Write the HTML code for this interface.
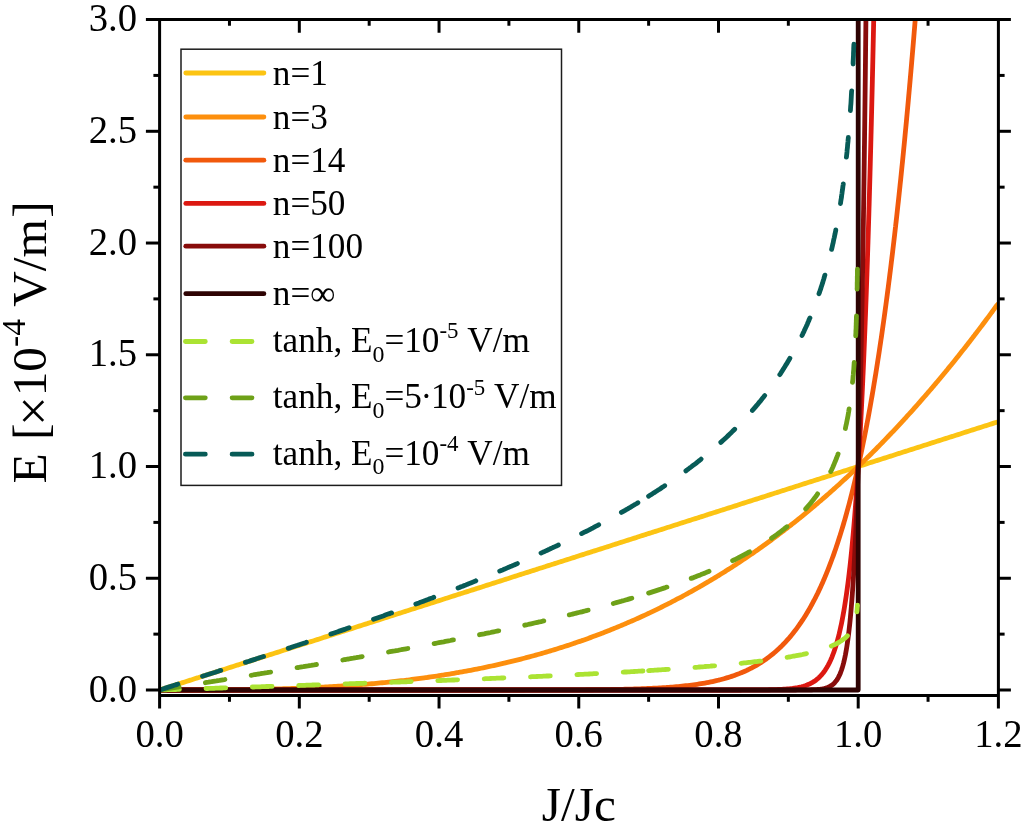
<!DOCTYPE html>
<html><head><meta charset="utf-8"><title>E-J power law and tanh</title>
<style>html,body{margin:0;padding:0;background:#fff}body{width:1025px;height:823px;overflow:hidden}</style></head>
<body>
<svg width="1025" height="823" viewBox="0 0 1025 823" style="display:block">
<rect width="1025" height="823" fill="#fff"/>
<defs><clipPath id="cp"><rect x="159.60" y="19.55" width="838.80" height="676.04"/></clipPath></defs>
<g stroke="#000" stroke-width="3.0" fill="none"><path d="M229.46,19.55 v6.20"/><path d="M299.32,19.55 v13.20"/><path d="M369.18,19.55 v6.20"/><path d="M439.04,19.55 v13.20"/><path d="M508.90,19.55 v6.20"/><path d="M578.76,19.55 v13.20"/><path d="M648.62,19.55 v6.20"/><path d="M718.48,19.55 v13.20"/><path d="M788.34,19.55 v6.20"/><path d="M858.20,19.55 v13.20"/><path d="M928.06,19.55 v6.20"/></g>
<g clip-path="url(#cp)" fill="none" stroke-width="4.8" stroke-linecap="round" stroke-linejoin="round">
<path d="M159.60,690.00 L161.70,689.33 L163.80,688.66 L165.90,687.98 L167.31,687.53 L168.00,687.31 L170.11,686.64 L172.21,685.97 L174.31,685.30 L175.02,685.07 L176.41,684.62 L178.51,683.95 L180.61,683.28 L182.71,682.61 L182.73,682.60 L184.81,681.93 L186.91,681.26 L189.01,680.59 L190.44,680.13 L191.12,679.92 L193.22,679.25 L195.32,678.57 L197.42,677.90 L198.15,677.67 L199.52,677.23 L201.62,676.56 L203.72,675.89 L205.82,675.21 L205.86,675.20 L207.92,674.54 L210.03,673.87 L212.13,673.20 L213.57,672.73 L214.23,672.52 L216.33,671.85 L218.43,671.18 L220.53,670.51 L221.28,670.27 L222.63,669.84 L224.73,669.16 L226.83,668.49 L228.93,667.82 L228.99,667.80 L231.04,667.15 L233.14,666.48 L235.24,665.80 L236.70,665.33 L237.34,665.13 L239.44,664.46 L241.54,663.79 L243.64,663.11 L244.41,662.87 L245.74,662.44 L247.84,661.77 L249.95,661.10 L252.05,660.43 L252.12,660.40 L254.15,659.75 L256.25,659.08 L258.35,658.41 L259.83,657.93 L260.45,657.74 L262.55,657.07 L264.65,656.39 L266.75,655.72 L267.54,655.47 L268.85,655.05 L270.96,654.38 L273.06,653.70 L275.16,653.03 L275.25,653.00 L277.26,652.36 L279.36,651.69 L281.46,651.02 L282.96,650.54 L283.56,650.34 L285.66,649.67 L287.76,649.00 L289.87,648.33 L290.68,648.07 L291.97,647.66 L294.07,646.98 L296.17,646.31 L298.27,645.64 L298.39,645.60 L300.37,644.97 L302.47,644.30 L304.57,643.62 L306.10,643.14 L306.67,642.95 L308.77,642.28 L310.88,641.61 L312.98,640.93 L313.81,640.67 L315.08,640.26 L317.18,639.59 L319.28,638.92 L321.38,638.25 L321.52,638.20 L323.48,637.57 L325.58,636.90 L327.68,636.23 L329.23,635.74 L329.79,635.56 L331.89,634.89 L333.99,634.21 L336.09,633.54 L336.94,633.27 L338.19,632.87 L340.29,632.20 L342.39,631.52 L344.49,630.85 L344.65,630.80 L346.59,630.18 L348.69,629.51 L350.80,628.84 L352.36,628.34 L352.90,628.16 L355.00,627.49 L357.10,626.82 L359.20,626.15 L360.07,625.87 L361.30,625.48 L363.40,624.80 L365.50,624.13 L367.60,623.46 L367.78,623.40 L369.71,622.79 L371.81,622.11 L373.91,621.44 L375.49,620.94 L376.01,620.77 L378.11,620.10 L380.21,619.43 L382.31,618.75 L383.20,618.47 L384.41,618.08 L386.51,617.41 L388.61,616.74 L390.72,616.07 L390.91,616.00 L392.82,615.39 L394.92,614.72 L397.02,614.05 L398.62,613.54 L399.12,613.38 L401.22,612.71 L403.32,612.03 L405.42,611.36 L406.33,611.07 L407.52,610.69 L409.63,610.02 L411.73,609.34 L413.83,608.67 L414.04,608.60 L415.93,608.00 L418.03,607.33 L420.13,606.66 L421.75,606.14 L422.23,605.98 L424.33,605.31 L426.43,604.64 L428.53,603.97 L429.46,603.67 L430.64,603.30 L432.74,602.62 L434.84,601.95 L436.94,601.28 L437.17,601.20 L439.04,600.61 L441.14,599.93 L443.24,599.26 L444.88,598.74 L445.34,598.59 L447.44,597.92 L449.55,597.25 L451.65,596.57 L452.59,596.27 L453.75,595.90 L455.85,595.23 L457.95,594.56 L460.05,593.89 L460.30,593.80 L462.15,593.21 L464.25,592.54 L466.35,591.87 L468.01,591.34 L468.45,591.20 L470.56,590.52 L472.66,589.85 L474.76,589.18 L475.72,588.87 L476.86,588.51 L478.96,587.84 L481.06,587.16 L483.16,586.49 L483.43,586.41 L485.26,585.82 L487.36,585.15 L489.47,584.48 L491.14,583.94 L491.57,583.80 L493.67,583.13 L495.77,582.46 L497.87,581.79 L498.85,581.47 L499.97,581.11 L502.07,580.44 L504.17,579.77 L506.27,579.10 L506.56,579.01 L508.37,578.43 L510.48,577.75 L512.58,577.08 L514.27,576.54 L514.68,576.41 L516.78,575.74 L518.88,575.07 L520.98,574.39 L521.98,574.07 L523.08,573.72 L525.18,573.05 L527.28,572.38 L529.39,571.71 L529.69,571.61 L531.49,571.03 L533.59,570.36 L535.69,569.69 L537.40,569.14 L537.79,569.02 L539.89,568.34 L541.99,567.67 L544.09,567.00 L545.12,566.67 L546.19,566.33 L548.29,565.66 L550.40,564.98 L552.50,564.31 L552.83,564.21 L554.60,563.64 L556.70,562.97 L558.80,562.30 L560.54,561.74 L560.90,561.62 L563.00,560.95 L565.10,560.28 L567.20,559.61 L568.25,559.27 L569.31,558.93 L571.41,558.26 L573.51,557.59 L575.61,556.92 L575.96,556.81 L577.71,556.25 L579.81,555.57 L581.91,554.90 L583.67,554.34 L584.01,554.23 L586.11,553.56 L588.21,552.89 L590.32,552.21 L591.38,551.87 L592.42,551.54 L594.52,550.87 L596.62,550.20 L598.72,549.52 L599.09,549.41 L600.82,548.85 L602.92,548.18 L605.02,547.51 L606.80,546.94 L607.12,546.84 L609.23,546.16 L611.33,545.49 L613.43,544.82 L614.51,544.47 L615.53,544.15 L617.63,543.48 L619.73,542.80 L621.83,542.13 L622.22,542.01 L623.93,541.46 L626.03,540.79 L628.13,540.11 L629.93,539.54 L630.24,539.44 L632.34,538.77 L634.44,538.10 L636.54,537.43 L637.64,537.07 L638.64,536.75 L640.74,536.08 L642.84,535.41 L644.94,534.74 L645.35,534.61 L647.04,534.07 L649.15,533.39 L651.25,532.72 L653.06,532.14 L653.35,532.05 L655.45,531.38 L657.55,530.71 L659.65,530.03 L660.77,529.67 L661.75,529.36 L663.85,528.69 L665.95,528.02 L668.05,527.34 L668.48,527.21 L670.16,526.67 L672.26,526.00 L674.36,525.33 L676.19,524.74 L676.46,524.66 L678.56,523.98 L680.66,523.31 L682.76,522.64 L683.90,522.28 L684.86,521.97 L686.96,521.30 L689.07,520.62 L691.17,519.95 L691.61,519.81 L693.27,519.28 L695.37,518.61 L697.47,517.93 L699.32,517.34 L699.57,517.26 L701.67,516.59 L703.77,515.92 L705.87,515.25 L707.03,514.88 L707.97,514.57 L710.08,513.90 L712.18,513.23 L714.28,512.56 L714.74,512.41 L716.38,511.89 L718.48,511.21 L720.58,510.54 L722.45,509.94 L722.68,509.87 L724.78,509.20 L726.88,508.52 L728.99,507.85 L730.16,507.48 L731.09,507.18 L733.19,506.51 L735.29,505.84 L737.39,505.16 L737.87,505.01 L739.49,504.49 L741.59,503.82 L743.69,503.15 L745.58,502.54 L745.79,502.48 L747.89,501.80 L750.00,501.13 L752.10,500.46 L753.29,500.08 L754.20,499.79 L756.30,499.11 L758.40,498.44 L760.50,497.77 L761.00,497.61 L762.60,497.10 L764.70,496.43 L766.80,495.75 L768.71,495.14 L768.91,495.08 L771.01,494.41 L773.11,493.74 L775.21,493.07 L776.42,492.68 L777.31,492.39 L779.41,491.72 L781.51,491.05 L783.61,490.38 L784.13,490.21 L785.71,489.71 L787.81,489.03 L789.92,488.36 L791.84,487.74 L792.02,487.69 L794.12,487.02 L796.22,486.34 L798.32,485.67 L799.55,485.28 L800.42,485.00 L802.52,484.33 L804.62,483.66 L806.72,482.98 L807.27,482.81 L808.83,482.31 L810.93,481.64 L813.03,480.97 L814.98,480.34 L815.13,480.30 L817.23,479.62 L819.33,478.95 L821.43,478.28 L822.69,477.88 L823.53,477.61 L825.63,476.93 L827.73,476.26 L829.84,475.59 L830.40,475.41 L831.94,474.92 L834.04,474.25 L836.14,473.57 L838.11,472.94 L838.24,472.90 L840.34,472.23 L842.44,471.56 L844.54,470.89 L845.82,470.48 L846.64,470.21 L848.75,469.54 L850.85,468.87 L852.95,468.20 L853.53,468.01 L855.05,467.52 L857.15,466.85 L859.25,466.18 L861.24,465.54 L861.35,465.51 L863.45,464.84 L865.55,464.16 L867.65,463.49 L868.95,463.08 L869.76,462.82 L871.86,462.15 L873.96,461.48 L876.06,460.80 L876.66,460.61 L878.16,460.13 L880.26,459.46 L882.36,458.79 L884.37,458.15 L884.46,458.12 L886.56,457.44 L888.67,456.77 L890.77,456.10 L892.08,455.68 L892.87,455.43 L894.97,454.75 L897.07,454.08 L899.17,453.41 L899.79,453.21 L901.27,452.74 L903.37,452.07 L905.47,451.39 L907.50,450.75 L907.57,450.72 L909.68,450.05 L911.78,449.38 L913.88,448.71 L915.21,448.28 L915.98,448.03 L918.08,447.36 L920.18,446.69 L922.28,446.02 L922.92,445.81 L924.38,445.34 L926.48,444.67 L928.59,444.00 L930.63,443.35 L930.69,443.33 L932.79,442.66 L934.89,441.98 L936.99,441.31 L938.34,440.88 L939.09,440.64 L941.19,439.97 L943.29,439.30 L945.39,438.62 L946.05,438.41 L947.49,437.95 L949.60,437.28 L951.70,436.61 L953.76,435.95 L953.80,435.93 L955.90,435.26 L958.00,434.59 L960.10,433.92 L961.47,433.48 L962.20,433.25 L964.30,432.57 L966.40,431.90 L968.51,431.23 L969.18,431.01 L970.61,430.56 L972.71,429.89 L974.81,429.21 L976.89,428.55 L976.91,428.54 L979.01,427.87 L981.11,427.20 L983.21,426.52 L984.60,426.08 L985.31,425.85 L987.41,425.18 L989.52,424.51 L991.62,423.84 L992.31,423.61 L993.72,423.16 L995.82,422.49 L998.40,421.82" stroke="#FCC413"/>
<path d="M159.60,690.00 L161.70,690.00 L163.80,690.00 L165.90,690.00 L168.00,690.00 L170.11,690.00 L172.21,690.00 L174.31,690.00 L176.41,690.00 L178.51,690.00 L180.61,689.99 L182.71,689.99 L184.81,689.99 L186.91,689.99 L189.01,689.98 L191.12,689.98 L193.22,689.98 L195.32,689.97 L197.42,689.96 L199.52,689.96 L201.62,689.95 L203.72,689.94 L205.82,689.94 L207.92,689.93 L210.03,689.92 L212.13,689.91 L214.23,689.89 L216.33,689.88 L218.43,689.87 L220.53,689.85 L222.63,689.84 L224.73,689.82 L226.83,689.80 L228.93,689.78 L231.04,689.76 L233.14,689.74 L235.24,689.72 L237.34,689.69 L239.44,689.67 L241.54,689.64 L243.64,689.61 L245.74,689.58 L247.84,689.55 L249.95,689.52 L252.05,689.48 L254.15,689.45 L256.25,689.41 L258.35,689.37 L260.45,689.33 L262.55,689.28 L264.65,689.24 L266.75,689.19 L268.85,689.15 L270.96,689.09 L273.06,689.04 L275.16,688.99 L277.26,688.93 L279.36,688.87 L281.46,688.81 L283.56,688.75 L285.66,688.69 L287.76,688.62 L289.87,688.55 L291.97,688.48 L294.07,688.41 L296.17,688.33 L298.27,688.25 L300.37,688.17 L302.47,688.09 L304.57,688.00 L306.67,687.91 L308.77,687.82 L310.88,687.73 L312.98,687.63 L315.08,687.54 L315.14,687.53 L317.18,687.44 L319.28,687.33 L321.38,687.22 L323.48,687.11 L325.58,687.00 L327.68,686.89 L329.79,686.77 L331.89,686.65 L333.99,686.52 L336.09,686.40 L338.19,686.27 L340.29,686.13 L342.39,686.00 L344.49,685.86 L346.59,685.71 L348.69,685.57 L350.80,685.42 L352.90,685.27 L355.00,685.11 L355.57,685.07 L357.10,684.95 L359.20,684.79 L361.30,684.62 L363.40,684.45 L365.50,684.28 L367.60,684.10 L369.71,683.92 L371.81,683.74 L373.91,683.55 L376.01,683.36 L378.11,683.16 L380.21,682.96 L382.31,682.76 L383.93,682.60 L384.41,682.55 L386.51,682.34 L388.61,682.13 L390.72,681.91 L392.82,681.69 L394.92,681.46 L397.02,681.23 L399.12,680.99 L401.22,680.75 L403.32,680.51 L405.42,680.26 L406.50,680.13 L407.52,680.01 L409.63,679.76 L411.73,679.49 L413.83,679.23 L415.93,678.96 L418.03,678.69 L420.13,678.41 L422.23,678.13 L424.33,677.84 L425.57,677.67 L426.43,677.55 L428.53,677.25 L430.64,676.95 L432.74,676.64 L434.84,676.33 L436.94,676.02 L439.04,675.70 L441.14,675.37 L442.24,675.20 L443.24,675.04 L445.34,674.71 L447.44,674.37 L449.55,674.02 L451.65,673.67 L453.75,673.32 L455.85,672.96 L457.14,672.73 L457.95,672.59 L460.05,672.22 L462.15,671.85 L464.25,671.47 L466.35,671.08 L468.45,670.69 L470.56,670.29 L470.68,670.27 L472.66,669.89 L474.76,669.48 L476.86,669.07 L478.96,668.65 L481.06,668.23 L483.14,667.80 L483.16,667.80 L485.26,667.36 L487.36,666.92 L489.47,666.47 L491.57,666.02 L493.67,665.56 L494.70,665.33 L495.77,665.10 L497.87,664.63 L499.97,664.15 L502.07,663.67 L504.17,663.18 L505.52,662.87 L506.27,662.69 L508.37,662.19 L510.48,661.68 L512.58,661.17 L514.68,660.66 L515.70,660.40 L516.78,660.13 L518.88,659.60 L520.98,659.06 L523.08,658.52 L525.18,657.97 L525.33,657.93 L527.28,657.42 L529.39,656.86 L531.49,656.29 L533.59,655.71 L534.47,655.47 L535.69,655.13 L537.79,654.54 L539.89,653.95 L541.99,653.35 L543.20,653.00 L544.09,652.74 L546.19,652.13 L548.29,651.51 L550.40,650.88 L551.54,650.54 L552.50,650.24 L554.60,649.60 L556.70,648.96 L558.80,648.30 L559.54,648.07 L560.90,647.64 L563.00,646.97 L565.10,646.29 L567.20,645.61 L567.23,645.60 L569.31,644.92 L571.41,644.22 L573.51,643.52 L574.64,643.14 L575.61,642.81 L577.71,642.09 L579.81,641.36 L581.80,640.67 L581.91,640.63 L584.01,639.89 L586.11,639.14 L588.21,638.39 L588.72,638.20 L590.32,637.62 L592.42,636.85 L594.52,636.08 L595.43,635.74 L596.62,635.29 L598.72,634.50 L600.82,633.70 L601.94,633.27 L602.92,632.89 L605.02,632.07 L607.12,631.25 L608.26,630.80 L609.23,630.42 L611.33,629.58 L613.43,628.73 L614.40,628.34 L615.53,627.88 L617.63,627.01 L619.73,626.14 L620.39,625.87 L621.83,625.27 L623.93,624.38 L626.03,623.48 L626.22,623.40 L628.13,622.58 L630.24,621.67 L631.91,620.94 L632.34,620.75 L634.44,619.82 L636.54,618.89 L637.47,618.47 L638.64,617.94 L640.74,616.99 L642.84,616.03 L642.90,616.00 L644.94,615.06 L647.04,614.08 L648.21,613.54 L649.15,613.10 L651.25,612.10 L653.35,611.10 L653.41,611.07 L655.45,610.09 L657.55,609.07 L658.50,608.60 L659.65,608.04 L661.75,607.00 L663.49,606.14 L663.85,605.96 L665.95,604.90 L668.05,603.84 L668.38,603.67 L670.16,602.77 L672.26,601.68 L673.18,601.20 L674.36,600.59 L676.46,599.49 L677.89,598.74 L678.56,598.39 L680.66,597.27 L682.52,596.27 L682.76,596.14 L684.86,595.01 L686.96,593.86 L687.07,593.80 L689.07,592.71 L691.17,591.55 L691.54,591.34 L693.27,590.37 L695.37,589.19 L695.94,588.87 L697.47,588.00 L699.57,586.80 L700.26,586.41 L701.67,585.59 L703.77,584.37 L704.52,583.94 L705.87,583.15 L707.97,581.91 L708.71,581.47 L710.08,580.66 L712.18,579.40 L712.84,579.01 L714.28,578.14 L716.38,576.86 L716.91,576.54 L718.48,575.58 L720.58,574.28 L720.92,574.07 L722.68,572.98 L724.78,571.66 L724.87,571.61 L726.88,570.34 L728.77,569.14 L728.99,569.00 L731.09,567.66 L732.62,566.67 L733.19,566.30 L735.29,564.94 L736.41,564.21 L737.39,563.56 L739.49,562.18 L740.16,561.74 L741.59,560.79 L743.69,559.38 L743.85,559.27 L745.79,557.97 L747.51,556.81 L747.89,556.54 L750.00,555.11 L751.11,554.34 L752.10,553.66 L754.20,552.21 L754.68,551.87 L756.30,550.74 L758.20,549.41 L758.40,549.26 L760.50,547.78 L761.68,546.94 L762.60,546.28 L764.70,544.77 L765.12,544.47 L766.80,543.25 L768.52,542.01 L768.91,541.73 L771.01,540.19 L771.88,539.54 L773.11,538.64 L775.21,537.08 L775.21,537.07 L777.31,535.51 L778.50,534.61 L779.41,533.92 L781.51,532.33 L781.76,532.14 L783.61,530.73 L784.98,529.67 L785.71,529.11 L787.81,527.49 L788.18,527.21 L789.92,525.85 L791.33,524.74 L792.02,524.21 L794.12,522.55 L794.46,522.28 L796.22,520.88 L797.56,519.81 L798.32,519.20 L800.42,517.51 L800.63,517.34 L802.52,515.81 L803.66,514.88 L804.62,514.09 L806.67,512.41 L806.72,512.37 L808.83,510.63 L809.66,509.94 L810.93,508.88 L812.61,507.48 L813.03,507.13 L815.13,505.36 L815.54,505.01 L817.23,503.58 L818.44,502.54 L819.33,501.78 L821.32,500.08 L821.43,499.98 L823.53,498.16 L824.17,497.61 L825.63,496.34 L827.00,495.14 L827.73,494.50 L829.80,492.68 L829.84,492.65 L831.94,490.79 L832.58,490.21 L834.04,488.91 L835.34,487.74 L836.14,487.03 L838.08,485.28 L838.24,485.13 L840.34,483.22 L840.79,482.81 L842.44,481.30 L843.48,480.34 L844.54,479.37 L846.16,477.88 L846.64,477.42 L848.75,475.47 L848.81,475.41 L850.85,473.50 L851.44,472.94 L852.95,471.52 L854.05,470.48 L855.05,469.53 L856.64,468.01 L857.15,467.52 L859.21,465.54 L859.25,465.51 L861.35,463.48 L861.76,463.08 L863.45,461.44 L864.30,460.61 L865.55,459.38 L866.82,458.15 L867.65,457.32 L869.32,455.68 L869.76,455.24 L871.80,453.21 L871.86,453.15 L873.96,451.05 L874.26,450.75 L876.06,448.94 L876.71,448.28 L878.16,446.81 L879.14,445.81 L880.26,444.67 L881.55,443.35 L882.36,442.52 L883.95,440.88 L884.46,440.35 L886.34,438.41 L886.56,438.18 L888.67,435.99 L888.70,435.95 L890.77,433.78 L891.05,433.48 L892.87,431.57 L893.39,431.01 L894.97,429.34 L895.71,428.55 L897.07,427.10 L898.02,426.08 L899.17,424.85 L900.31,423.61 L901.27,422.58 L902.59,421.15 L903.37,420.30 L904.86,418.68 L905.47,418.01 L907.11,416.21 L907.57,415.70 L909.35,413.75 L909.68,413.39 L911.57,411.28 L911.78,411.05 L913.78,408.81 L913.88,408.71 L915.98,406.35 L915.98,406.35 L918.08,403.98 L918.17,403.88 L920.18,401.60 L920.34,401.42 L922.28,399.20 L922.50,398.95 L924.38,396.79 L924.65,396.48 L926.48,394.37 L926.79,394.02 L928.59,391.93 L928.92,391.55 L930.69,389.48 L931.03,389.08 L932.79,387.02 L933.13,386.62 L934.89,384.54 L935.22,384.15 L936.99,382.05 L937.30,381.68 L939.09,379.55 L939.37,379.22 L941.19,377.03 L941.43,376.75 L943.29,374.50 L943.47,374.28 L945.39,371.96 L945.51,371.82 L947.49,369.40 L947.54,369.35 L949.55,366.88 L949.60,366.83 L951.56,364.42 L951.70,364.24 L953.55,361.95 L953.80,361.64 L955.54,359.48 L955.90,359.03 L957.51,357.02 L958.00,356.40 L959.48,354.55 L960.10,353.76 L961.43,352.08 L962.20,351.11 L963.38,349.62 L964.30,348.44 L965.31,347.15 L966.40,345.76 L967.24,344.68 L968.51,343.06 L969.16,342.22 L970.61,340.35 L971.07,339.75 L972.71,337.63 L972.97,337.29 L974.81,334.89 L974.86,334.82 L976.74,332.35 L976.91,332.14 L978.62,329.89 L979.01,329.37 L980.48,327.42 L981.11,326.59 L982.34,324.95 L983.21,323.79 L984.19,322.49 L985.31,320.98 L986.03,320.02 L987.41,318.16 L987.86,317.55 L989.52,315.32 L989.69,315.09 L991.50,312.62 L991.62,312.47 L993.31,310.15 L993.72,309.60 L995.11,307.69 L995.82,306.72 L996.91,305.22 L998.40,303.82" stroke="#FD8F0D"/>
<path d="M159.60,690.00 L161.51,690.00 L163.41,690.00 L165.32,690.00 L167.23,690.00 L169.13,690.00 L171.04,690.00 L172.95,690.00 L174.85,690.00 L176.76,690.00 L178.67,690.00 L180.57,690.00 L182.48,690.00 L184.39,690.00 L186.29,690.00 L188.20,690.00 L190.11,690.00 L192.01,690.00 L193.92,690.00 L195.83,690.00 L197.73,690.00 L199.64,690.00 L201.55,690.00 L203.46,690.00 L205.36,690.00 L207.27,690.00 L209.18,690.00 L211.08,690.00 L212.99,690.00 L214.90,690.00 L216.80,690.00 L218.71,690.00 L220.62,690.00 L222.52,690.00 L224.43,690.00 L226.34,690.00 L228.24,690.00 L230.15,690.00 L232.06,690.00 L233.96,690.00 L235.87,690.00 L237.78,690.00 L239.68,690.00 L241.59,690.00 L243.50,690.00 L245.40,690.00 L247.31,690.00 L249.22,690.00 L251.12,690.00 L253.03,690.00 L254.94,690.00 L256.84,690.00 L258.75,690.00 L260.66,690.00 L262.56,690.00 L264.47,690.00 L266.38,690.00 L268.28,690.00 L270.19,690.00 L272.10,690.00 L274.00,690.00 L275.91,690.00 L277.82,690.00 L279.72,690.00 L281.63,690.00 L283.54,690.00 L285.45,690.00 L287.35,690.00 L289.26,690.00 L291.17,690.00 L293.07,690.00 L294.98,690.00 L296.89,690.00 L298.79,690.00 L300.70,690.00 L302.61,690.00 L304.51,690.00 L306.42,690.00 L308.33,690.00 L310.23,690.00 L312.14,690.00 L314.05,690.00 L315.95,690.00 L317.86,690.00 L319.77,690.00 L321.67,690.00 L323.58,690.00 L325.49,690.00 L327.39,690.00 L329.30,690.00 L331.21,690.00 L333.11,690.00 L335.02,690.00 L336.93,690.00 L338.83,690.00 L340.74,690.00 L342.65,690.00 L344.55,690.00 L346.46,690.00 L348.37,690.00 L350.27,690.00 L352.18,690.00 L354.09,690.00 L355.99,690.00 L357.90,690.00 L359.81,690.00 L361.71,690.00 L363.62,690.00 L365.53,690.00 L367.44,690.00 L369.34,690.00 L371.25,690.00 L373.16,690.00 L375.06,690.00 L376.97,690.00 L378.88,690.00 L380.78,690.00 L382.69,690.00 L384.60,690.00 L386.50,690.00 L388.41,690.00 L390.32,690.00 L392.22,690.00 L394.13,690.00 L396.04,690.00 L397.94,690.00 L399.85,690.00 L401.76,690.00 L403.66,690.00 L405.57,690.00 L407.48,690.00 L409.38,690.00 L411.29,690.00 L413.20,690.00 L415.10,690.00 L417.01,690.00 L418.92,690.00 L420.82,690.00 L422.73,690.00 L424.64,690.00 L426.54,690.00 L428.45,690.00 L430.36,690.00 L432.26,690.00 L434.17,690.00 L436.08,690.00 L437.98,690.00 L439.89,690.00 L441.80,690.00 L443.70,690.00 L445.61,690.00 L447.52,690.00 L449.43,690.00 L451.33,690.00 L453.24,690.00 L455.15,690.00 L457.05,690.00 L458.96,690.00 L460.87,690.00 L462.77,690.00 L464.68,690.00 L466.59,690.00 L468.49,690.00 L470.40,690.00 L472.31,690.00 L474.21,690.00 L476.12,690.00 L478.03,690.00 L479.93,690.00 L481.84,690.00 L483.75,690.00 L485.65,689.99 L487.56,689.99 L489.47,689.99 L491.37,689.99 L493.28,689.99 L495.19,689.99 L497.09,689.99 L499.00,689.99 L500.91,689.99 L502.81,689.99 L504.72,689.99 L506.63,689.99 L508.53,689.99 L510.44,689.99 L512.35,689.98 L514.25,689.98 L516.16,689.98 L518.07,689.98 L519.97,689.98 L521.88,689.98 L523.79,689.98 L525.69,689.97 L527.60,689.97 L529.51,689.97 L531.42,689.97 L533.32,689.96 L535.23,689.96 L537.14,689.96 L539.04,689.96 L540.95,689.95 L542.86,689.95 L544.76,689.95 L546.67,689.94 L548.58,689.94 L550.48,689.93 L552.39,689.93 L554.30,689.92 L556.20,689.92 L558.11,689.91 L560.02,689.91 L561.92,689.90 L563.83,689.89 L565.74,689.89 L567.64,689.88 L569.55,689.87 L571.46,689.86 L573.36,689.85 L575.27,689.84 L577.18,689.83 L579.08,689.82 L580.99,689.81 L582.90,689.80 L584.80,689.79 L586.71,689.77 L588.62,689.76 L590.52,689.74 L592.43,689.73 L594.34,689.71 L596.24,689.69 L598.15,689.67 L600.06,689.65 L601.96,689.63 L603.87,689.60 L605.78,689.58 L607.68,689.55 L609.59,689.53 L611.50,689.50 L613.41,689.47 L615.31,689.44 L617.22,689.40 L619.13,689.37 L621.03,689.33 L622.94,689.29 L624.85,689.25 L626.75,689.20 L628.66,689.15 L630.57,689.10 L632.47,689.05 L634.38,689.00 L636.29,688.94 L638.19,688.88 L640.10,688.81 L642.01,688.75 L643.91,688.68 L645.82,688.60 L647.73,688.52 L649.63,688.44 L651.54,688.35 L653.45,688.26 L655.35,688.16 L657.26,688.06 L659.17,687.96 L661.07,687.84 L662.98,687.73 L664.89,687.60 L665.93,687.53 L666.79,687.47 L668.70,687.34 L670.61,687.19 L672.51,687.04 L674.42,686.89 L676.33,686.72 L678.23,686.55 L680.14,686.37 L682.05,686.17 L683.95,685.97 L685.86,685.76 L687.77,685.54 L689.67,685.31 L691.58,685.07 L691.63,685.07 L693.49,684.82 L695.40,684.55 L697.30,684.28 L699.21,683.99 L701.12,683.68 L703.02,683.36 L704.93,683.03 L706.84,682.68 L707.26,682.60 L708.74,682.32 L710.65,681.93 L712.56,681.53 L714.46,681.12 L716.37,680.68 L718.28,680.22 L718.63,680.13 L720.18,679.74 L722.09,679.24 L724.00,678.72 L725.90,678.18 L727.61,677.67 L727.81,677.61 L729.72,677.01 L731.62,676.39 L733.53,675.74 L735.06,675.20 L735.44,675.06 L737.34,674.36 L739.25,673.62 L741.16,672.85 L741.43,672.73 L743.06,672.04 L744.97,671.20 L746.88,670.33 L747.01,670.27 L748.78,669.41 L750.69,668.46 L751.97,667.80 L752.60,667.47 L754.50,666.43 L756.41,665.35 L756.44,665.33 L758.32,664.23 L760.22,663.05 L760.52,662.87 L762.13,661.83 L764.04,660.56 L764.27,660.40 L765.94,659.23 L767.73,657.93 L767.85,657.85 L769.76,656.41 L770.96,655.47 L771.66,654.91 L773.57,653.35 L773.98,653.00 L775.48,651.72 L776.82,650.54 L777.39,650.03 L779.29,648.26 L779.50,648.07 L781.20,646.43 L782.03,645.60 L783.11,644.52 L784.44,643.14 L785.01,642.54 L786.74,640.67 L786.92,640.47 L788.83,638.32 L788.93,638.20 L790.73,636.08 L791.02,635.74 L792.64,633.76 L793.03,633.27 L794.55,631.34 L794.96,630.80 L796.45,628.82 L796.81,628.34 L798.36,626.21 L798.60,625.87 L800.27,623.49 L800.33,623.40 L801.99,620.94 L802.17,620.66 L803.60,618.47 L804.08,617.73 L805.17,616.00 L805.99,614.68 L806.68,613.54 L807.89,611.50 L808.15,611.07 L809.58,608.60 L809.80,608.21 L810.96,606.14 L811.71,604.79 L812.31,603.67 L813.61,601.23 L813.63,601.20 L814.91,598.74 L815.52,597.54 L816.16,596.27 L817.38,593.81 L817.43,593.70 L818.57,591.34 L819.33,589.72 L819.73,588.87 L820.87,586.41 L821.24,585.59 L821.98,583.94 L823.07,581.47 L823.15,581.30 L824.14,579.01 L825.05,576.84 L825.18,576.54 L826.20,574.07 L826.96,572.21 L827.21,571.61 L828.19,569.14 L828.87,567.41 L829.16,566.67 L830.10,564.21 L830.77,562.43 L831.03,561.74 L831.95,559.27 L832.68,557.27 L832.85,556.81 L833.73,554.34 L834.59,551.90 L834.60,551.87 L835.45,549.41 L836.29,546.94 L836.49,546.34 L837.12,544.47 L837.93,542.01 L838.40,540.57 L838.73,539.54 L839.52,537.07 L840.30,534.61 L840.31,534.58 L841.07,532.14 L841.82,529.67 L842.21,528.38 L842.57,527.21 L843.30,524.74 L844.02,522.28 L844.12,521.94 L844.74,519.81 L845.44,517.34 L846.03,515.27 L846.14,514.88 L846.82,512.41 L847.50,509.94 L847.93,508.35 L848.17,507.48 L848.83,505.01 L849.48,502.54 L849.84,501.18 L850.13,500.08 L850.76,497.61 L851.39,495.14 L851.75,493.74 L852.02,492.68 L852.63,490.21 L853.24,487.74 L853.65,486.03 L853.84,485.28 L854.43,482.81 L855.02,480.34 L855.56,478.05 L855.60,477.88 L856.18,475.41 L856.75,472.94 L857.31,470.48 L857.47,469.77 L857.87,468.01 L858.42,465.54 L858.96,463.08 L859.38,461.20 L859.50,460.61 L860.04,458.15 L860.57,455.68 L861.09,453.21 L861.28,452.31 L861.61,450.75 L862.13,448.28 L862.64,445.81 L863.14,443.35 L863.19,443.11 L863.64,440.88 L864.14,438.41 L864.63,435.95 L865.10,433.57 L865.11,433.48 L865.60,431.01 L866.07,428.55 L866.55,426.08 L867.00,423.70 L867.02,423.61 L867.48,421.15 L867.95,418.68 L868.40,416.21 L868.86,413.75 L868.91,413.47 L869.31,411.28 L869.76,408.81 L870.20,406.35 L870.64,403.88 L870.82,402.88 L871.07,401.42 L871.51,398.95 L871.94,396.48 L872.36,394.02 L872.72,391.91 L872.78,391.55 L873.20,389.08 L873.62,386.62 L874.03,384.15 L874.44,381.68 L874.63,380.56 L874.85,379.22 L875.25,376.75 L875.66,374.28 L876.05,371.82 L876.45,369.35 L876.54,368.81 L876.84,366.88 L877.23,364.42 L877.62,361.95 L878.00,359.48 L878.38,357.02 L878.44,356.64 L878.76,354.55 L879.14,352.08 L879.51,349.62 L879.88,347.15 L880.25,344.68 L880.35,344.04 L880.62,342.22 L880.98,339.75 L881.35,337.29 L881.71,334.82 L882.06,332.35 L882.26,331.01 L882.42,329.89 L882.77,327.42 L883.12,324.95 L883.47,322.49 L883.81,320.02 L884.16,317.55 L884.16,317.51 L884.50,315.09 L884.84,312.62 L885.18,310.15 L885.51,307.69 L885.85,305.22 L886.07,303.55 L886.18,302.75 L886.51,300.29 L886.83,297.82 L887.16,295.35 L887.48,292.89 L887.81,290.42 L887.98,289.11 L888.13,287.95 L888.44,285.49 L888.76,283.02 L889.08,280.55 L889.39,278.09 L889.70,275.62 L889.88,274.16 L890.01,273.15 L890.32,270.69 L890.62,268.22 L890.93,265.76 L891.23,263.29 L891.53,260.82 L891.79,258.70 L891.83,258.36 L892.13,255.89 L892.43,253.42 L892.72,250.96 L893.01,248.49 L893.31,246.02 L893.60,243.56 L893.70,242.71 L893.89,241.09 L894.17,238.62 L894.46,236.16 L894.74,233.69 L895.03,231.22 L895.31,228.76 L895.59,226.29 L895.60,226.17 L895.87,223.82 L896.15,221.36 L896.42,218.89 L896.70,216.42 L896.97,213.96 L897.24,211.49 L897.51,209.06 L897.51,209.02 L897.78,206.56 L898.05,204.09 L898.32,201.63 L898.58,199.16 L898.85,196.69 L899.11,194.23 L899.37,191.76 L899.42,191.37 L899.64,189.29 L899.90,186.83 L900.15,184.36 L900.41,181.89 L900.67,179.43 L900.92,176.96 L901.18,174.49 L901.32,173.07 L901.43,172.03 L901.68,169.56 L901.93,167.09 L902.18,164.63 L902.43,162.16 L902.68,159.69 L902.92,157.23 L903.17,154.76 L903.23,154.15 L903.41,152.29 L903.66,149.83 L903.90,147.36 L904.14,144.90 L904.38,142.43 L904.62,139.96 L904.86,137.50 L905.09,135.03 L905.14,134.59 L905.33,132.56 L905.57,130.10 L905.80,127.63 L906.03,125.16 L906.27,122.70 L906.50,120.23 L906.73,117.76 L906.96,115.30 L907.04,114.37 L907.19,112.83 L907.41,110.36 L907.64,107.90 L907.87,105.43 L908.09,102.96 L908.32,100.50 L908.54,98.03 L908.76,95.56 L908.95,93.47 L908.98,93.10 L909.20,90.63 L909.42,88.16 L909.64,85.70 L909.86,83.23 L910.08,80.77 L910.30,78.30 L910.51,75.83 L910.73,73.37 L910.86,71.86 L910.94,70.90 L911.15,68.43 L911.37,65.97 L911.58,63.50 L911.79,61.03 L912.00,58.57 L912.21,56.10 L912.42,53.63 L912.63,51.17 L912.76,49.53 L912.83,48.70 L913.04,46.23 L913.25,43.77 L913.45,41.30 L913.66,38.83 L913.86,36.37 L914.06,33.90 L914.26,31.43 L914.47,28.97 L914.67,26.50 L914.67,26.45 L914.87,24.03 L915.07,21.57 L915.27,19.10 L915.46,16.64 L915.66,14.17 L915.86,11.70 L916.05,9.24 L916.25,6.77 L916.44,4.30 L916.58,2.61 L916.64,1.84 L916.83,-0.63 L917.02,-3.10 L917.22,-5.56 L917.41,-8.03 L917.60,-10.50 L917.79,-12.96 L917.98,-15.43 L918.17,-17.90 L918.36,-20.36 L918.48,-22.04 L918.54,-22.83 L918.73,-25.30 L918.92,-27.76 L919.10,-30.23 L919.29,-32.70 L919.48,-35.16 L919.66,-37.63 L919.84,-40.10 L920.03,-42.56 L920.21,-45.03 L920.39,-47.49" stroke="#F1590C"/>
<path d="M159.60,690.00 L161.39,690.00 L163.19,690.00 L164.98,690.00 L166.77,690.00 L168.57,690.00 L170.36,690.00 L172.15,690.00 L173.95,690.00 L175.74,690.00 L177.53,690.00 L179.33,690.00 L181.12,690.00 L182.91,690.00 L184.70,690.00 L186.50,690.00 L188.29,690.00 L190.08,690.00 L191.88,690.00 L193.67,690.00 L195.46,690.00 L197.26,690.00 L199.05,690.00 L200.84,690.00 L202.64,690.00 L204.43,690.00 L206.22,690.00 L208.02,690.00 L209.81,690.00 L211.60,690.00 L213.40,690.00 L215.19,690.00 L216.98,690.00 L218.78,690.00 L220.57,690.00 L222.36,690.00 L224.15,690.00 L225.95,690.00 L227.74,690.00 L229.53,690.00 L231.33,690.00 L233.12,690.00 L234.91,690.00 L236.71,690.00 L238.50,690.00 L240.29,690.00 L242.09,690.00 L243.88,690.00 L245.67,690.00 L247.47,690.00 L249.26,690.00 L251.05,690.00 L252.85,690.00 L254.64,690.00 L256.43,690.00 L258.23,690.00 L260.02,690.00 L261.81,690.00 L263.60,690.00 L265.40,690.00 L267.19,690.00 L268.98,690.00 L270.78,690.00 L272.57,690.00 L274.36,690.00 L276.16,690.00 L277.95,690.00 L279.74,690.00 L281.54,690.00 L283.33,690.00 L285.12,690.00 L286.92,690.00 L288.71,690.00 L290.50,690.00 L292.30,690.00 L294.09,690.00 L295.88,690.00 L297.68,690.00 L299.47,690.00 L301.26,690.00 L303.06,690.00 L304.85,690.00 L306.64,690.00 L308.43,690.00 L310.23,690.00 L312.02,690.00 L313.81,690.00 L315.61,690.00 L317.40,690.00 L319.19,690.00 L320.99,690.00 L322.78,690.00 L324.57,690.00 L326.37,690.00 L328.16,690.00 L329.95,690.00 L331.75,690.00 L333.54,690.00 L335.33,690.00 L337.13,690.00 L338.92,690.00 L340.71,690.00 L342.51,690.00 L344.30,690.00 L346.09,690.00 L347.88,690.00 L349.68,690.00 L351.47,690.00 L353.26,690.00 L355.06,690.00 L356.85,690.00 L358.64,690.00 L360.44,690.00 L362.23,690.00 L364.02,690.00 L365.82,690.00 L367.61,690.00 L369.40,690.00 L371.20,690.00 L372.99,690.00 L374.78,690.00 L376.58,690.00 L378.37,690.00 L380.16,690.00 L381.96,690.00 L383.75,690.00 L385.54,690.00 L387.33,690.00 L389.13,690.00 L390.92,690.00 L392.71,690.00 L394.51,690.00 L396.30,690.00 L398.09,690.00 L399.89,690.00 L401.68,690.00 L403.47,690.00 L405.27,690.00 L407.06,690.00 L408.85,690.00 L410.65,690.00 L412.44,690.00 L414.23,690.00 L416.03,690.00 L417.82,690.00 L419.61,690.00 L421.41,690.00 L423.20,690.00 L424.99,690.00 L426.79,690.00 L428.58,690.00 L430.37,690.00 L432.16,690.00 L433.96,690.00 L435.75,690.00 L437.54,690.00 L439.34,690.00 L441.13,690.00 L442.92,690.00 L444.72,690.00 L446.51,690.00 L448.30,690.00 L450.10,690.00 L451.89,690.00 L453.68,690.00 L455.48,690.00 L457.27,690.00 L459.06,690.00 L460.86,690.00 L462.65,690.00 L464.44,690.00 L466.24,690.00 L468.03,690.00 L469.82,690.00 L471.61,690.00 L473.41,690.00 L475.20,690.00 L476.99,690.00 L478.79,690.00 L480.58,690.00 L482.37,690.00 L484.17,690.00 L485.96,690.00 L487.75,690.00 L489.55,690.00 L491.34,690.00 L493.13,690.00 L494.93,690.00 L496.72,690.00 L498.51,690.00 L500.31,690.00 L502.10,690.00 L503.89,690.00 L505.69,690.00 L507.48,690.00 L509.27,690.00 L511.06,690.00 L512.86,690.00 L514.65,690.00 L516.44,690.00 L518.24,690.00 L520.03,690.00 L521.82,690.00 L523.62,690.00 L525.41,690.00 L527.20,690.00 L529.00,690.00 L530.79,690.00 L532.58,690.00 L534.38,690.00 L536.17,690.00 L537.96,690.00 L539.76,690.00 L541.55,690.00 L543.34,690.00 L545.14,690.00 L546.93,690.00 L548.72,690.00 L550.52,690.00 L552.31,690.00 L554.10,690.00 L555.89,690.00 L557.69,690.00 L559.48,690.00 L561.27,690.00 L563.07,690.00 L564.86,690.00 L566.65,690.00 L568.45,690.00 L570.24,690.00 L572.03,690.00 L573.83,690.00 L575.62,690.00 L577.41,690.00 L579.21,690.00 L581.00,690.00 L582.79,690.00 L584.59,690.00 L586.38,690.00 L588.17,690.00 L589.97,690.00 L591.76,690.00 L593.55,690.00 L595.34,690.00 L597.14,690.00 L598.93,690.00 L600.72,690.00 L602.52,690.00 L604.31,690.00 L606.10,690.00 L607.90,690.00 L609.69,690.00 L611.48,690.00 L613.28,690.00 L615.07,690.00 L616.86,690.00 L618.66,690.00 L620.45,690.00 L622.24,690.00 L624.04,690.00 L625.83,690.00 L627.62,690.00 L629.42,690.00 L631.21,690.00 L633.00,690.00 L634.79,690.00 L636.59,690.00 L638.38,690.00 L640.17,690.00 L641.97,690.00 L643.76,690.00 L645.55,690.00 L647.35,690.00 L649.14,690.00 L650.93,690.00 L652.73,690.00 L654.52,690.00 L656.31,690.00 L658.11,690.00 L659.90,690.00 L661.69,690.00 L663.49,690.00 L665.28,690.00 L667.07,690.00 L668.87,690.00 L670.66,690.00 L672.45,690.00 L674.25,690.00 L676.04,690.00 L677.83,690.00 L679.62,690.00 L681.42,690.00 L683.21,690.00 L685.00,690.00 L686.80,690.00 L688.59,690.00 L690.38,690.00 L692.18,690.00 L693.97,690.00 L695.76,690.00 L697.56,690.00 L699.35,690.00 L701.14,690.00 L702.94,690.00 L704.73,690.00 L706.52,690.00 L708.32,690.00 L710.11,690.00 L711.90,690.00 L713.70,690.00 L715.49,690.00 L717.28,690.00 L719.07,690.00 L720.87,690.00 L722.66,690.00 L724.45,689.99 L726.25,689.99 L728.04,689.99 L729.83,689.99 L731.63,689.99 L733.42,689.99 L735.21,689.99 L737.01,689.98 L738.80,689.98 L740.59,689.98 L742.39,689.97 L744.18,689.97 L745.97,689.96 L747.77,689.96 L749.56,689.95 L751.35,689.94 L753.15,689.94 L754.94,689.92 L756.73,689.91 L758.52,689.90 L760.32,689.88 L762.11,689.86 L763.90,689.84 L765.70,689.82 L767.49,689.79 L769.28,689.75 L771.08,689.71 L772.87,689.67 L774.66,689.62 L776.46,689.56 L778.25,689.49 L780.04,689.41 L781.84,689.32 L783.63,689.21 L785.42,689.09 L787.22,688.95 L789.01,688.79 L790.80,688.60 L792.60,688.39 L794.39,688.14 L796.18,687.86 L797.98,687.54 L797.99,687.53 L799.77,687.17 L801.56,686.74 L803.35,686.25 L805.15,685.69 L806.90,685.07 L806.94,685.05 L808.73,684.32 L810.53,683.48 L812.17,682.60 L812.32,682.52 L814.11,681.41 L815.91,680.16 L815.94,680.13 L817.70,678.72 L818.87,677.67 L819.49,677.07 L821.28,675.20 L821.29,675.19 L823.08,673.05 L823.32,672.73 L824.87,670.60 L825.10,670.27 L826.67,667.80 L826.67,667.80 L828.08,665.33 L828.46,664.62 L829.35,662.87 L830.25,660.98 L830.52,660.40 L831.59,657.93 L832.05,656.84 L832.59,655.47 L833.52,653.00 L833.84,652.11 L834.39,650.54 L835.21,648.07 L835.63,646.73 L835.98,645.60 L836.71,643.14 L837.41,640.67 L837.43,640.60 L838.07,638.20 L838.70,635.74 L839.22,633.63 L839.30,633.27 L839.88,630.80 L840.44,628.34 L840.97,625.87 L841.01,625.69 L841.49,623.40 L841.98,620.94 L842.46,618.47 L842.80,616.66 L842.93,616.00 L843.37,613.54 L843.81,611.07 L844.23,608.60 L844.60,606.39 L844.64,606.14 L845.04,603.67 L845.42,601.20 L845.80,598.74 L846.16,596.27 L846.39,594.71 L846.52,593.80 L846.87,591.34 L847.21,588.87 L847.54,586.41 L847.86,583.94 L848.18,581.47 L848.18,581.44 L848.49,579.01 L848.79,576.54 L849.09,574.07 L849.38,571.61 L849.66,569.14 L849.94,566.67 L849.98,566.36 L850.22,564.21 L850.48,561.74 L850.75,559.27 L851.01,556.81 L851.26,554.34 L851.51,551.87 L851.75,549.41 L851.77,549.24 L852.00,546.94 L852.23,544.47 L852.46,542.01 L852.69,539.54 L852.92,537.07 L853.14,534.61 L853.36,532.14 L853.56,529.80 L853.57,529.67 L853.79,527.21 L854.00,524.74 L854.20,522.28 L854.40,519.81 L854.60,517.34 L854.80,514.88 L855.00,512.41 L855.19,509.94 L855.36,507.74 L855.38,507.48 L855.56,505.01 L855.75,502.54 L855.93,500.08 L856.11,497.61 L856.29,495.14 L856.46,492.68 L856.64,490.21 L856.81,487.74 L856.98,485.28 L857.14,482.81 L857.15,482.70 L857.31,480.34 L857.47,477.88 L857.63,475.41 L857.79,472.94 L857.95,470.48 L858.11,468.01 L858.26,465.54 L858.41,463.08 L858.56,460.61 L858.71,458.15 L858.86,455.68 L858.94,454.31 L859.01,453.21 L859.15,450.75 L859.30,448.28 L859.44,445.81 L859.58,443.35 L859.72,440.88 L859.86,438.41 L859.99,435.95 L860.13,433.48 L860.26,431.01 L860.40,428.55 L860.53,426.08 L860.66,423.61 L860.74,422.11 L860.79,421.15 L860.92,418.68 L861.04,416.21 L861.17,413.75 L861.29,411.28 L861.42,408.81 L861.54,406.35 L861.66,403.88 L861.78,401.41 L861.90,398.95 L862.02,396.48 L862.14,394.02 L862.25,391.55 L862.37,389.08 L862.48,386.62 L862.53,385.62 L862.60,384.15 L862.71,381.68 L862.82,379.22 L862.93,376.75 L863.04,374.28 L863.15,371.82 L863.26,369.35 L863.37,366.88 L863.48,364.42 L863.58,361.95 L863.69,359.48 L863.79,357.02 L863.90,354.55 L864.00,352.08 L864.10,349.62 L864.21,347.15 L864.31,344.68 L864.32,344.27 L864.41,342.22 L864.51,339.75 L864.60,337.28 L864.70,334.82 L864.80,332.35 L864.90,329.89 L864.99,327.42 L865.09,324.95 L865.18,322.49 L865.28,320.02 L865.37,317.55 L865.47,315.09 L865.56,312.62 L865.65,310.15 L865.74,307.69 L865.83,305.22 L865.92,302.75 L866.01,300.29 L866.10,297.82 L866.12,297.42 L866.19,295.35 L866.28,292.89 L866.37,290.42 L866.45,287.95 L866.54,285.49 L866.63,283.02 L866.71,280.55 L866.80,278.09 L866.88,275.62 L866.96,273.15 L867.05,270.69 L867.13,268.22 L867.21,265.76 L867.30,263.29 L867.38,260.82 L867.46,258.36 L867.54,255.89 L867.62,253.42 L867.70,250.96 L867.78,248.49 L867.86,246.02 L867.91,244.38 L867.94,243.56 L868.01,241.09 L868.09,238.62 L868.17,236.16 L868.25,233.69 L868.32,231.22 L868.40,228.76 L868.47,226.29 L868.55,223.82 L868.62,221.36 L868.70,218.89 L868.77,216.42 L868.85,213.96 L868.92,211.49 L868.99,209.02 L869.06,206.56 L869.14,204.09 L869.21,201.63 L869.28,199.16 L869.35,196.69 L869.42,194.23 L869.49,191.76 L869.56,189.29 L869.63,186.83 L869.70,184.36 L869.70,184.32 L869.77,181.89 L869.84,179.43 L869.91,176.96 L869.98,174.49 L870.04,172.03 L870.11,169.56 L870.18,167.09 L870.25,164.63 L870.31,162.16 L870.38,159.69 L870.44,157.23 L870.51,154.76 L870.58,152.29 L870.64,149.83 L870.71,147.36 L870.77,144.89 L870.83,142.43 L870.90,139.96 L870.96,137.50 L871.02,135.03 L871.09,132.56 L871.15,130.10 L871.21,127.63 L871.28,125.16 L871.34,122.70 L871.40,120.23 L871.46,117.76 L871.50,116.36 L871.52,115.30 L871.58,112.83 L871.64,110.36 L871.70,107.90 L871.76,105.43 L871.82,102.96 L871.88,100.50 L871.94,98.03 L872.00,95.56 L872.06,93.10 L872.12,90.63 L872.18,88.16 L872.24,85.70 L872.30,83.23 L872.35,80.76 L872.41,78.30 L872.47,75.83 L872.53,73.37 L872.58,70.90 L872.64,68.43 L872.70,65.97 L872.75,63.50 L872.81,61.03 L872.86,58.57 L872.92,56.10 L872.97,53.63 L873.03,51.17 L873.09,48.70 L873.14,46.23 L873.19,43.77 L873.25,41.30 L873.29,39.47 L873.30,38.83 L873.36,36.37 L873.41,33.90 L873.46,31.43 L873.52,28.97 L873.57,26.50 L873.62,24.03 L873.68,21.57 L873.73,19.10 L873.78,16.64 L873.83,14.17 L873.89,11.70 L873.94,9.24 L873.99,6.77 L874.04,4.30 L874.09,1.84 L874.14,-0.63 L874.19,-3.10 L874.25,-5.56 L874.30,-8.03 L874.35,-10.50 L874.40,-12.96 L874.45,-15.43 L874.50,-17.90 L874.55,-20.36 L874.60,-22.83 L874.65,-25.30 L874.69,-27.76 L874.74,-30.23 L874.79,-32.70 L874.84,-35.16 L874.89,-37.63 L874.94,-40.10 L874.99,-42.56 L875.03,-45.03 L875.08,-47.50" stroke="#DC1811"/>
<path d="M159.60,690.00 L161.37,690.00 L163.14,690.00 L164.92,690.00 L166.69,690.00 L168.46,690.00 L170.23,690.00 L172.00,690.00 L173.78,690.00 L175.55,690.00 L177.32,690.00 L179.09,690.00 L180.86,690.00 L182.63,690.00 L184.41,690.00 L186.18,690.00 L187.95,690.00 L189.72,690.00 L191.49,690.00 L193.27,690.00 L195.04,690.00 L196.81,690.00 L198.58,690.00 L200.35,690.00 L202.13,690.00 L203.90,690.00 L205.67,690.00 L207.44,690.00 L209.21,690.00 L210.99,690.00 L212.76,690.00 L214.53,690.00 L216.30,690.00 L218.07,690.00 L219.84,690.00 L221.62,690.00 L223.39,690.00 L225.16,690.00 L226.93,690.00 L228.70,690.00 L230.48,690.00 L232.25,690.00 L234.02,690.00 L235.79,690.00 L237.56,690.00 L239.34,690.00 L241.11,690.00 L242.88,690.00 L244.65,690.00 L246.42,690.00 L248.20,690.00 L249.97,690.00 L251.74,690.00 L253.51,690.00 L255.28,690.00 L257.05,690.00 L258.83,690.00 L260.60,690.00 L262.37,690.00 L264.14,690.00 L265.91,690.00 L267.69,690.00 L269.46,690.00 L271.23,690.00 L273.00,690.00 L274.77,690.00 L276.55,690.00 L278.32,690.00 L280.09,690.00 L281.86,690.00 L283.63,690.00 L285.41,690.00 L287.18,690.00 L288.95,690.00 L290.72,690.00 L292.49,690.00 L294.26,690.00 L296.04,690.00 L297.81,690.00 L299.58,690.00 L301.35,690.00 L303.12,690.00 L304.90,690.00 L306.67,690.00 L308.44,690.00 L310.21,690.00 L311.98,690.00 L313.76,690.00 L315.53,690.00 L317.30,690.00 L319.07,690.00 L320.84,690.00 L322.62,690.00 L324.39,690.00 L326.16,690.00 L327.93,690.00 L329.70,690.00 L331.47,690.00 L333.25,690.00 L335.02,690.00 L336.79,690.00 L338.56,690.00 L340.33,690.00 L342.11,690.00 L343.88,690.00 L345.65,690.00 L347.42,690.00 L349.19,690.00 L350.97,690.00 L352.74,690.00 L354.51,690.00 L356.28,690.00 L358.05,690.00 L359.83,690.00 L361.60,690.00 L363.37,690.00 L365.14,690.00 L366.91,690.00 L368.68,690.00 L370.46,690.00 L372.23,690.00 L374.00,690.00 L375.77,690.00 L377.54,690.00 L379.32,690.00 L381.09,690.00 L382.86,690.00 L384.63,690.00 L386.40,690.00 L388.18,690.00 L389.95,690.00 L391.72,690.00 L393.49,690.00 L395.26,690.00 L397.04,690.00 L398.81,690.00 L400.58,690.00 L402.35,690.00 L404.12,690.00 L405.90,690.00 L407.67,690.00 L409.44,690.00 L411.21,690.00 L412.98,690.00 L414.75,690.00 L416.53,690.00 L418.30,690.00 L420.07,690.00 L421.84,690.00 L423.61,690.00 L425.39,690.00 L427.16,690.00 L428.93,690.00 L430.70,690.00 L432.47,690.00 L434.25,690.00 L436.02,690.00 L437.79,690.00 L439.56,690.00 L441.33,690.00 L443.11,690.00 L444.88,690.00 L446.65,690.00 L448.42,690.00 L450.19,690.00 L451.96,690.00 L453.74,690.00 L455.51,690.00 L457.28,690.00 L459.05,690.00 L460.82,690.00 L462.60,690.00 L464.37,690.00 L466.14,690.00 L467.91,690.00 L469.68,690.00 L471.46,690.00 L473.23,690.00 L475.00,690.00 L476.77,690.00 L478.54,690.00 L480.32,690.00 L482.09,690.00 L483.86,690.00 L485.63,690.00 L487.40,690.00 L489.17,690.00 L490.95,690.00 L492.72,690.00 L494.49,690.00 L496.26,690.00 L498.03,690.00 L499.81,690.00 L501.58,690.00 L503.35,690.00 L505.12,690.00 L506.89,690.00 L508.67,690.00 L510.44,690.00 L512.21,690.00 L513.98,690.00 L515.75,690.00 L517.53,690.00 L519.30,690.00 L521.07,690.00 L522.84,690.00 L524.61,690.00 L526.38,690.00 L528.16,690.00 L529.93,690.00 L531.70,690.00 L533.47,690.00 L535.24,690.00 L537.02,690.00 L538.79,690.00 L540.56,690.00 L542.33,690.00 L544.10,690.00 L545.88,690.00 L547.65,690.00 L549.42,690.00 L551.19,690.00 L552.96,690.00 L554.74,690.00 L556.51,690.00 L558.28,690.00 L560.05,690.00 L561.82,690.00 L563.59,690.00 L565.37,690.00 L567.14,690.00 L568.91,690.00 L570.68,690.00 L572.45,690.00 L574.23,690.00 L576.00,690.00 L577.77,690.00 L579.54,690.00 L581.31,690.00 L583.09,690.00 L584.86,690.00 L586.63,690.00 L588.40,690.00 L590.17,690.00 L591.95,690.00 L593.72,690.00 L595.49,690.00 L597.26,690.00 L599.03,690.00 L600.80,690.00 L602.58,690.00 L604.35,690.00 L606.12,690.00 L607.89,690.00 L609.66,690.00 L611.44,690.00 L613.21,690.00 L614.98,690.00 L616.75,690.00 L618.52,690.00 L620.30,690.00 L622.07,690.00 L623.84,690.00 L625.61,690.00 L627.38,690.00 L629.16,690.00 L630.93,690.00 L632.70,690.00 L634.47,690.00 L636.24,690.00 L638.01,690.00 L639.79,690.00 L641.56,690.00 L643.33,690.00 L645.10,690.00 L646.87,690.00 L648.65,690.00 L650.42,690.00 L652.19,690.00 L653.96,690.00 L655.73,690.00 L657.51,690.00 L659.28,690.00 L661.05,690.00 L662.82,690.00 L664.59,690.00 L666.37,690.00 L668.14,690.00 L669.91,690.00 L671.68,690.00 L673.45,690.00 L675.22,690.00 L677.00,690.00 L678.77,690.00 L680.54,690.00 L682.31,690.00 L684.08,690.00 L685.86,690.00 L687.63,690.00 L689.40,690.00 L691.17,690.00 L692.94,690.00 L694.72,690.00 L696.49,690.00 L698.26,690.00 L700.03,690.00 L701.80,690.00 L703.58,690.00 L705.35,690.00 L707.12,690.00 L708.89,690.00 L710.66,690.00 L712.43,690.00 L714.21,690.00 L715.98,690.00 L717.75,690.00 L719.52,690.00 L721.29,690.00 L723.07,690.00 L724.84,690.00 L726.61,690.00 L728.38,690.00 L730.15,690.00 L731.93,690.00 L733.70,690.00 L735.47,690.00 L737.24,690.00 L739.01,690.00 L740.79,690.00 L742.56,690.00 L744.33,690.00 L746.10,690.00 L747.87,690.00 L749.64,690.00 L751.42,690.00 L753.19,690.00 L754.96,690.00 L756.73,690.00 L758.50,690.00 L760.28,690.00 L762.05,690.00 L763.82,690.00 L765.59,690.00 L767.36,690.00 L769.14,690.00 L770.91,690.00 L772.68,690.00 L774.45,690.00 L776.22,690.00 L778.00,690.00 L779.77,690.00 L781.54,690.00 L783.31,690.00 L785.08,690.00 L786.85,690.00 L788.63,689.99 L790.40,689.99 L792.17,689.99 L793.94,689.99 L795.71,689.98 L797.49,689.97 L799.26,689.97 L801.03,689.96 L802.80,689.94 L804.57,689.92 L806.35,689.90 L808.12,689.87 L809.89,689.83 L811.66,689.77 L813.43,689.70 L815.21,689.61 L816.98,689.49 L818.75,689.33 L820.52,689.13 L822.29,688.86 L824.06,688.51 L825.84,688.05 L827.42,687.53 L827.61,687.46 L829.38,686.69 L831.15,685.69 L832.06,685.07 L832.92,684.39 L834.70,682.71 L834.79,682.60 L836.47,680.52 L836.74,680.13 L838.24,677.69 L838.25,677.67 L839.49,675.20 L840.01,674.02 L840.54,672.73 L841.45,670.27 L841.78,669.27 L842.25,667.80 L842.97,665.33 L843.56,663.13 L843.62,662.87 L844.22,660.40 L844.77,657.93 L845.27,655.47 L845.33,655.20 L845.75,653.00 L846.19,650.54 L846.61,648.07 L847.00,645.60 L847.10,644.96 L847.37,643.14 L847.72,640.67 L848.06,638.20 L848.38,635.74 L848.69,633.27 L848.87,631.73 L848.98,630.80 L849.26,628.34 L849.53,625.87 L849.79,623.40 L850.04,620.94 L850.29,618.47 L850.52,616.00 L850.64,614.68 L850.75,613.54 L850.97,611.07 L851.18,608.60 L851.39,606.14 L851.59,603.67 L851.78,601.20 L851.97,598.74 L852.16,596.27 L852.34,593.80 L852.42,592.69 L852.51,591.34 L852.68,588.87 L852.85,586.41 L853.01,583.94 L853.17,581.47 L853.33,579.01 L853.48,576.54 L853.63,574.07 L853.78,571.61 L853.92,569.14 L854.06,566.67 L854.19,564.37 L854.20,564.21 L854.33,561.74 L854.46,559.27 L854.59,556.81 L854.72,554.34 L854.85,551.87 L854.97,549.41 L855.09,546.94 L855.21,544.47 L855.33,542.01 L855.44,539.54 L855.55,537.07 L855.67,534.61 L855.78,532.14 L855.88,529.68 L855.96,527.92 L855.99,527.21 L856.09,524.74 L856.20,522.28 L856.30,519.81 L856.40,517.34 L856.50,514.88 L856.60,512.41 L856.69,509.94 L856.79,507.48 L856.88,505.01 L856.97,502.54 L857.06,500.08 L857.15,497.61 L857.24,495.14 L857.33,492.68 L857.42,490.21 L857.50,487.74 L857.59,485.28 L857.67,482.81 L857.73,481.03 L857.75,480.34 L857.84,477.88 L857.92,475.41 L858.00,472.94 L858.08,470.48 L858.15,468.01 L858.23,465.55 L858.31,463.08 L858.38,460.61 L858.46,458.15 L858.53,455.68 L858.60,453.21 L858.68,450.75 L858.75,448.28 L858.82,445.81 L858.89,443.35 L858.96,440.88 L859.03,438.41 L859.10,435.95 L859.16,433.48 L859.23,431.01 L859.30,428.55 L859.36,426.08 L859.43,423.61 L859.49,421.15 L859.50,420.74 L859.56,418.68 L859.62,416.21 L859.68,413.75 L859.74,411.28 L859.81,408.81 L859.87,406.35 L859.93,403.88 L859.99,401.42 L860.05,398.95 L860.11,396.48 L860.17,394.02 L860.22,391.55 L860.28,389.08 L860.34,386.62 L860.40,384.15 L860.45,381.68 L860.51,379.22 L860.56,376.75 L860.62,374.28 L860.67,371.82 L860.73,369.35 L860.78,366.88 L860.83,364.42 L860.89,361.95 L860.94,359.48 L860.99,357.02 L861.04,354.55 L861.09,352.08 L861.15,349.62 L861.20,347.15 L861.25,344.68 L861.28,343.27 L861.30,342.22 L861.35,339.75 L861.40,337.29 L861.44,334.82 L861.49,332.35 L861.54,329.89 L861.59,327.42 L861.64,324.95 L861.68,322.49 L861.73,320.02 L861.78,317.55 L861.82,315.09 L861.87,312.62 L861.92,310.15 L861.96,307.69 L862.01,305.22 L862.05,302.75 L862.10,300.29 L862.14,297.82 L862.18,295.35 L862.23,292.89 L862.27,290.42 L862.31,287.95 L862.36,285.49 L862.40,283.02 L862.44,280.55 L862.48,278.09 L862.53,275.62 L862.57,273.15 L862.61,270.69 L862.65,268.22 L862.69,265.76 L862.73,263.29 L862.77,260.82 L862.81,258.36 L862.85,255.89 L862.89,253.42 L862.93,250.96 L862.97,248.49 L863.01,246.02 L863.05,243.81 L863.05,243.56 L863.09,241.09 L863.13,238.62 L863.17,236.16 L863.20,233.69 L863.24,231.22 L863.28,228.76 L863.32,226.29 L863.36,223.82 L863.39,221.36 L863.43,218.89 L863.47,216.42 L863.50,213.96 L863.54,211.49 L863.58,209.02 L863.61,206.56 L863.65,204.09 L863.68,201.63 L863.72,199.16 L863.75,196.69 L863.79,194.23 L863.82,191.76 L863.86,189.29 L863.89,186.83 L863.93,184.36 L863.96,181.89 L864.00,179.43 L864.03,176.96 L864.06,174.49 L864.10,172.03 L864.13,169.56 L864.16,167.09 L864.20,164.63 L864.23,162.16 L864.26,159.69 L864.30,157.23 L864.33,154.76 L864.36,152.29 L864.39,149.83 L864.42,147.36 L864.46,144.89 L864.49,142.43 L864.52,139.96 L864.55,137.50 L864.58,135.03 L864.61,132.56 L864.65,130.10 L864.68,127.63 L864.71,125.16 L864.74,122.70 L864.77,120.23 L864.80,117.76 L864.82,116.18 L864.83,115.30 L864.86,112.83 L864.89,110.36 L864.92,107.90 L864.95,105.43 L864.98,102.96 L865.01,100.50 L865.04,98.03 L865.07,95.56 L865.10,93.10 L865.13,90.63 L865.16,88.16 L865.18,85.70 L865.21,83.23 L865.24,80.77 L865.27,78.30 L865.30,75.83 L865.33,73.37 L865.35,70.90 L865.38,68.43 L865.41,65.97 L865.44,63.50 L865.47,61.03 L865.49,58.57 L865.52,56.10 L865.55,53.63 L865.58,51.17 L865.60,48.70 L865.63,46.23 L865.66,43.77 L865.68,41.30 L865.71,38.83 L865.74,36.37 L865.76,33.90 L865.79,31.43 L865.82,28.97 L865.84,26.50 L865.87,24.03 L865.90,21.57 L865.92,19.10 L865.95,16.63 L865.97,14.17 L866.00,11.70 L866.03,9.24 L866.05,6.77 L866.08,4.30 L866.10,1.84 L866.13,-0.63 L866.15,-3.10 L866.18,-5.56 L866.20,-8.03 L866.23,-10.50 L866.25,-12.96 L866.28,-15.43 L866.30,-17.90 L866.33,-20.36 L866.35,-22.83 L866.37,-25.30 L866.40,-27.76 L866.42,-30.23 L866.45,-32.70 L866.47,-35.16 L866.50,-37.63 L866.52,-40.10 L866.54,-42.56 L866.57,-45.03 L866.59,-47.49" stroke="#880C0B"/>
<path d="M159.60,690.00 L858.20,690.00 L858.20,-47.50" stroke="#2E0303"/>
<path d="M159.6,690.0 L161.2,689.9 L162.8,689.9 L164.5,689.8 L166.1,689.8 L167.7,689.7 L169.3,689.7 L170.9,689.6 L172.5,689.6 L174.1,689.5 L175.8,689.5 L177.4,689.4 L179.0,689.4 L179.4,689.4M206.0,688.5 L207.6,688.5 L209.2,688.4 L210.8,688.4 L212.4,688.3 L214.1,688.3 L215.7,688.2 L217.3,688.2 L218.9,688.1 L220.5,688.0 L222.1,688.0 L223.7,687.9 L225.3,687.9 L225.7,687.9M252.3,687.0 L253.9,687.0 L255.5,686.9 L257.1,686.9 L258.8,686.8 L260.3,686.8 L261.9,686.7 L263.5,686.7 L265.1,686.6 L266.6,686.5 L268.2,686.5 L269.8,686.4 L271.4,686.4 L272.1,686.4M298.7,685.5 L300.3,685.4 L301.8,685.4 L303.4,685.3 L305.0,685.3 L306.5,685.2 L308.0,685.2 L309.6,685.1 L311.2,685.1 L312.7,685.0 L314.2,685.0 L315.8,684.9 L317.3,684.9 L318.5,684.8M345.1,683.9 L346.9,683.9 L348.4,683.8 L350.1,683.7 L351.7,683.7 L353.3,683.6 L355.0,683.6 L356.6,683.5 L358.3,683.5 L359.9,683.4 L361.4,683.4 L363.2,683.3 L364.8,683.2 L364.9,683.2M391.5,682.3 L393.2,682.2 L394.8,682.2 L396.4,682.1 L398.1,682.1 L399.6,682.0 L401.3,681.9 L403.0,681.9 L404.6,681.8 L406.2,681.8 L407.8,681.7 L409.5,681.6 L411.1,681.6 L411.2,681.6M437.8,680.6 L439.5,680.5 L441.1,680.5 L442.7,680.4 L444.4,680.3 L446.0,680.3 L447.7,680.2 L449.3,680.1 L450.9,680.1 L452.6,680.0 L454.1,680.0 L455.7,679.9 L457.4,679.8 L457.6,679.8M484.2,678.8 L485.8,678.7 L487.4,678.6 L489.0,678.6 L490.6,678.5 L492.2,678.4 L493.7,678.4 L495.3,678.3 L496.8,678.2 L498.4,678.2 L499.9,678.1 L501.5,678.0 L503.0,678.0 L503.9,677.9M530.5,676.8 L532.2,676.7 L533.8,676.6 L535.4,676.6 L537.0,676.5 L538.7,676.4 L540.2,676.3 L541.9,676.3 L543.6,676.2 L545.2,676.1 L546.8,676.0 L548.4,676.0 L550.1,675.9 L550.3,675.9M576.9,674.6 L578.5,674.5 L580.1,674.4 L581.6,674.4 L583.1,674.3 L584.7,674.2 L586.2,674.1 L587.7,674.1 L589.2,674.0 L590.7,673.9 L592.2,673.8 L593.8,673.7 L595.4,673.7 L596.6,673.6M623.2,672.1 L624.8,672.0 L626.4,672.0 L628.1,671.9 L629.6,671.8 L631.1,671.7 L632.7,671.6 L634.2,671.5 L635.7,671.4 L637.2,671.3 L638.7,671.2 L640.5,671.1 L642.1,671.0 L643.0,671.0M648.6,670.6 L650.2,670.5 L651.7,670.4 L653.2,670.3 L654.8,670.2 L656.3,670.1 L657.8,670.0 L659.3,669.9 L660.9,669.8 L662.4,669.7 L663.9,669.6 L665.5,669.5 L667.0,669.4 L668.3,669.3M694.9,667.4 L696.4,667.3 L697.9,667.2 L699.5,667.0 L701.0,666.9 L702.5,666.8 L704.1,666.7 L705.6,666.5 L707.1,666.4 L708.7,666.3 L710.2,666.2 L711.7,666.0 L713.3,665.9 L714.6,665.8M741.1,663.3 L742.7,663.1 L744.2,662.9 L745.7,662.8 L747.3,662.6 L748.8,662.4 L750.3,662.3 L751.9,662.1 L753.4,661.9 L754.9,661.7 L756.5,661.6 L758.0,661.4 L759.5,661.2 L760.8,661.1M787.1,657.3 L788.7,657.0 L790.2,656.8 L791.7,656.5 L793.3,656.2 L794.8,656.0 L796.3,655.7 L797.9,655.4 L799.4,655.1 L800.9,654.8 L802.5,654.5 L804.0,654.1 L805.5,653.8 L806.5,653.6M831.3,646.1 L832.8,645.4 L834.2,644.8 L835.6,644.1 L837.0,643.4 L838.3,642.6 L839.7,641.8 L841.0,641.0 L842.3,640.1 L843.5,639.2 L844.7,638.3 L845.9,637.3 L847.0,636.2 L847.4,635.8M856.9,611.9 L857.1,610.4 L857.2,608.8 L857.3,607.3 L857.5,605.8 L857.5,605.1" stroke="#ABE333"/>
<path d="M159.6,690.0 L161.2,689.7 L162.8,689.5 L164.5,689.2 L166.1,689.0 L167.7,688.7 L169.3,688.4 L170.9,688.2 L172.5,687.9 L174.1,687.7 L175.8,687.4 L177.4,687.2 L179.0,686.9 L179.1,686.9M205.4,682.7 L206.9,682.4 L208.4,682.2 L210.0,681.9 L211.6,681.7 L213.3,681.4 L214.9,681.1 L216.4,680.9 L218.0,680.6 L219.6,680.4 L221.3,680.1 L222.9,679.8 L224.5,679.6 L224.9,679.5M251.2,675.3 L252.8,675.0 L254.4,674.7 L256.0,674.5 L257.6,674.2 L259.1,674.0 L260.7,673.7 L262.3,673.4 L263.9,673.2 L265.5,672.9 L267.1,672.7 L268.6,672.4 L270.2,672.2 L270.7,672.1M297.0,667.7 L298.6,667.5 L300.2,667.2 L301.8,666.9 L303.4,666.7 L305.0,666.4 L306.5,666.1 L308.0,665.9 L309.6,665.6 L311.2,665.4 L312.7,665.1 L314.2,664.9 L315.8,664.6 L316.5,664.5M342.8,660.0 L344.2,659.7 L345.8,659.5 L347.3,659.2 L348.8,659.0 L350.3,658.7 L351.8,658.4 L353.3,658.2 L354.8,657.9 L356.2,657.7 L357.7,657.4 L359.2,657.2 L360.7,656.9 L362.2,656.6 L362.2,656.6M388.5,652.0 L389.9,651.7 L391.6,651.4 L393.2,651.1 L394.8,650.9 L396.4,650.6 L398.1,650.3 L399.6,650.0 L401.3,649.7 L402.8,649.4 L404.6,649.1 L406.2,648.8 L407.8,648.5 L407.9,648.5M434.1,643.6 L435.6,643.3 L437.2,643.0 L438.9,642.7 L440.5,642.4 L442.0,642.1 L443.7,641.8 L445.4,641.4 L447.0,641.1 L448.6,640.8 L450.3,640.5 L451.8,640.2 L453.4,639.9 L453.5,639.9M479.5,634.7 L481.1,634.4 L482.7,634.1 L484.2,633.8 L485.8,633.4 L487.4,633.1 L489.0,632.8 L490.6,632.5 L492.2,632.1 L493.7,631.8 L495.3,631.5 L496.8,631.2 L498.4,630.8 L498.8,630.8M524.7,625.2 L526.3,624.8 L527.8,624.5 L529.5,624.1 L531.0,623.8 L532.8,623.4 L534.4,623.0 L535.9,622.7 L537.6,622.3 L539.3,621.9 L541.0,621.6 L542.5,621.2 L543.8,620.9M569.3,614.9 L570.9,614.5 L572.5,614.1 L574.1,613.7 L575.5,613.3 L577.2,612.9 L578.8,612.5 L580.3,612.2 L581.9,611.8 L583.4,611.4 L584.9,611.0 L586.4,610.6 L587.9,610.2 L588.2,610.2M613.3,603.5 L614.9,603.0 L616.3,602.6 L617.9,602.2 L619.5,601.7 L621.1,601.3 L622.5,600.9 L624.0,600.5 L625.6,600.0 L627.1,599.6 L628.7,599.1 L630.3,598.6 L631.8,598.2 L631.8,598.2M648.6,593.1 L650.2,592.6 L651.7,592.1 L653.2,591.6 L654.8,591.1 L656.3,590.6 L657.8,590.1 L659.3,589.6 L660.9,589.2 L662.4,588.6 L663.9,588.1 L665.5,587.6 L666.9,587.1M691.2,578.4 L692.7,577.9 L694.2,577.3 L695.7,576.7 L697.3,576.1 L698.8,575.5 L700.3,574.9 L701.7,574.3 L703.1,573.8 L704.5,573.2 L705.9,572.6 L707.3,572.0 L708.7,571.5 L709.0,571.3M732.6,560.7 L734.0,560.0 L735.4,559.3 L736.8,558.6 L738.2,557.9 L739.6,557.1 L741.0,556.4 L742.4,555.7 L743.8,555.0 L745.2,554.2 L746.6,553.5 L748.0,552.7 L749.4,551.9 L749.6,551.8M771.6,538.2 L772.9,537.3 L774.1,536.5 L775.3,535.6 L776.7,534.6 L777.9,533.7 L779.2,532.8 L780.4,531.8 L781.7,530.8 L782.9,529.9 L784.2,528.9 L785.4,527.9 L786.6,527.0 L786.9,526.7M805.7,508.9 L806.8,507.6 L807.9,506.3 L809.0,505.0 L810.0,503.9 L811.0,502.7 L811.9,501.5 L812.9,500.3 L813.9,499.0 L814.8,497.8 L815.8,496.5 L816.8,495.1 L817.6,493.9M830.7,471.6 L831.4,470.2 L832.1,468.7 L832.8,467.2 L833.4,465.8 L834.0,464.3 L834.6,462.8 L835.3,461.3 L835.9,459.7 L836.5,458.3 L837.0,456.8 L837.6,455.3 L838.1,453.9M845.4,428.5 L845.7,426.9 L846.0,425.4 L846.4,423.9 L846.7,422.3 L847.0,420.8 L847.3,419.3 L847.6,417.7 L847.9,416.2 L848.2,414.7 L848.4,413.2 L848.7,411.6 L848.9,410.1 L849.1,408.9M852.5,382.4 L852.7,380.8 L852.9,379.3 L853.0,377.7 L853.1,376.2 L853.3,374.7 L853.4,373.1 L853.5,371.6 L853.7,370.1 L853.8,368.6 L853.9,367.0 L854.0,365.5 L854.1,364.0 L854.2,362.5M855.7,335.8 L855.8,334.2 L855.9,332.7 L855.9,331.2 L856.0,329.6 L856.1,328.1 L856.1,326.6 L856.2,325.0 L856.2,323.5 L856.3,322.0 L856.3,320.5 L856.4,318.9 L856.4,317.4 L856.5,315.9M857.1,289.1 L857.2,287.4 L857.2,285.9 L857.2,284.4 L857.2,282.8 L857.3,281.3 L857.3,279.8 L857.3,278.3 L857.3,276.7 L857.4,275.2 L857.4,273.7 L857.4,272.1 L857.4,270.6 L857.5,269.2" stroke="#6EA118"/>
<path d="M159.6,690.0 L161.2,689.5 L162.8,689.0 L164.5,688.4 L166.1,687.9 L167.7,687.4 L169.3,686.9 L170.9,686.4 L172.5,685.9 L174.1,685.3 L175.6,684.9 L177.2,684.4 L177.9,684.1M202.5,676.3 L204.0,675.8 L205.6,675.3 L207.2,674.7 L208.8,674.2 L210.4,673.7 L212.0,673.2 L213.7,672.7 L215.3,672.2 L216.7,671.7 L218.3,671.2 L220.0,670.6 L220.8,670.4M245.4,662.4 L246.9,661.9 L248.3,661.5 L250.0,660.9 L251.6,660.4 L253.2,659.9 L254.8,659.4 L256.4,658.8 L258.0,658.3 L259.4,657.8 L261.1,657.3 L262.7,656.8 L263.6,656.5M288.2,648.4 L289.8,647.9 L291.4,647.3 L292.9,646.8 L294.5,646.3 L296.0,645.8 L297.6,645.3 L299.2,644.7 L300.7,644.2 L302.2,643.7 L303.8,643.2 L305.4,642.7 L306.4,642.3M330.9,634.1 L332.5,633.5 L334.1,633.0 L335.6,632.5 L337.1,632.0 L338.6,631.4 L340.1,630.9 L341.6,630.4 L343.1,629.9 L344.6,629.4 L346.2,628.8 L347.7,628.3 L349.1,627.8M373.5,619.3 L374.9,618.8 L376.5,618.2 L378.0,617.7 L379.4,617.2 L380.9,616.7 L382.4,616.2 L383.8,615.7 L385.3,615.1 L386.7,614.6 L388.1,614.1 L389.6,613.6 L391.0,613.1 L391.6,612.9M415.8,604.0 L417.3,603.5 L419.0,602.9 L420.4,602.3 L421.9,601.8 L423.5,601.2 L425.2,600.6 L426.6,600.0 L428.1,599.5 L429.7,598.8 L431.4,598.2 L432.8,597.7 L433.8,597.3M458.0,588.0 L459.4,587.5 L461.0,586.8 L462.7,586.2 L464.3,585.5 L465.9,584.9 L467.6,584.2 L469.2,583.6 L470.8,582.9 L472.4,582.3 L474.1,581.6 L475.7,581.0 L475.8,580.9M499.7,571.1 L501.1,570.5 L502.7,569.9 L504.1,569.3 L505.7,568.6 L507.3,567.9 L508.7,567.3 L510.3,566.6 L511.8,566.0 L513.2,565.4 L514.8,564.7 L516.3,564.1 L517.4,563.6M541.0,553.1 L542.5,552.4 L543.9,551.8 L545.3,551.1 L546.7,550.5 L548.1,549.8 L549.5,549.2 L550.9,548.5 L552.3,547.9 L553.6,547.2 L555.0,546.6 L556.4,546.0 L557.8,545.3 L558.4,545.0M581.6,533.6 L583.0,532.9 L584.4,532.2 L585.9,531.5 L587.3,530.8 L588.7,530.1 L590.2,529.3 L591.7,528.5 L593.2,527.8 L594.7,526.9 L596.1,526.2 L597.7,525.4 L598.7,524.8M621.4,512.4 L622.8,511.6 L624.2,510.8 L625.5,510.1 L626.8,509.3 L628.1,508.6 L629.4,507.8 L630.7,507.1 L632.0,506.3 L633.3,505.5 L634.6,504.7 L635.9,504.0 L637.2,503.2 L637.9,502.7M648.6,496.2 L650.0,495.3 L651.4,494.4 L652.8,493.5 L654.2,492.7 L655.5,491.8 L656.8,491.0 L658.2,490.1 L659.6,489.2 L661.0,488.2 L662.3,487.3 L663.7,486.4 L664.7,485.7M685.9,470.9 L687.1,469.9 L688.4,469.0 L689.6,468.0 L690.9,467.1 L692.1,466.2 L693.4,465.2 L694.6,464.3 L695.9,463.3 L697.1,462.3 L698.3,461.4 L699.6,460.3 L700.9,459.3 L701.1,459.1M720.8,442.4 L721.9,441.4 L723.1,440.3 L724.3,439.2 L725.4,438.2 L726.5,437.2 L727.6,436.1 L728.7,435.1 L729.8,434.0 L730.9,433.0 L732.0,431.9 L733.1,430.8 L734.2,429.7 L734.7,429.2M752.4,410.4 L753.5,409.2 L754.6,407.9 L755.7,406.6 L756.7,405.4 L757.7,404.3 L758.6,403.1 L759.6,401.9 L760.6,400.8 L761.5,399.6 L762.5,398.3 L763.4,397.2 L764.4,395.9 L764.7,395.6M779.8,374.6 L780.7,373.3 L781.5,372.0 L782.3,370.7 L783.1,369.4 L784.0,368.1 L784.8,366.8 L785.6,365.4 L786.4,364.2 L787.3,362.7 L788.1,361.3 L789.0,359.9 L789.8,358.5 L789.9,358.3M802.0,335.5 L802.7,334.1 L803.4,332.6 L804.1,331.2 L804.7,329.7 L805.4,328.2 L806.1,326.8 L806.7,325.4 L807.4,323.9 L808.0,322.4 L808.6,321.0 L809.2,319.5 L809.8,318.1 L809.9,318.0M819.0,293.7 L819.6,292.1 L820.1,290.5 L820.6,289.1 L821.1,287.6 L821.5,286.2 L822.0,284.7 L822.5,283.3 L822.9,281.8 L823.3,280.4 L823.8,278.9 L824.2,277.5 L824.6,276.0 L824.9,275.1M831.6,249.4 L832.0,247.7 L832.4,245.9 L832.8,244.1 L833.2,242.6 L833.5,240.8 L833.9,239.0 L834.3,237.5 L834.6,235.8 L835.0,234.1 L835.3,232.5 L835.7,230.7 L835.8,229.9M840.5,203.5 L840.7,202.0 L840.9,200.5 L841.2,198.8 L841.5,197.0 L841.7,195.1 L842.0,193.3 L842.2,191.5 L842.5,189.7 L842.7,188.1 L842.9,186.4 L843.2,184.6 L843.3,183.9M846.4,157.2 L846.6,155.6 L846.8,153.8 L847.0,152.0 L847.1,150.2 L847.3,148.6 L847.5,146.9 L847.6,145.1 L847.8,143.3 L848.0,141.5 L848.1,139.7 L848.3,138.1 L848.3,137.4M850.4,110.7 L850.5,109.2 L850.6,107.7 L850.7,105.9 L850.9,104.1 L851.0,102.3 L851.1,100.5 L851.2,98.7 L851.3,96.9 L851.4,95.0 L851.5,93.2 L851.6,91.4 L851.7,90.8M853.1,64.1 L853.1,62.4 L853.2,60.6 L853.3,58.8 L853.4,57.0 L853.5,55.1 L853.5,53.3 L853.6,51.5 L853.7,49.9 L853.7,48.3 L853.8,46.4 L853.9,44.6 L853.9,44.2M854.8,17.4 L854.9,15.6 L854.9,13.9 L855.0,12.3 L855.0,10.5 L855.1,9.0 L855.1,7.3 L855.2,5.5 L855.2,3.6 L855.3,1.8 L855.3,0.0 L855.3,-1.8 L855.4,-2.5M856.0,-29.3 L856.0,-30.8 L856.0,-32.6 L856.1,-34.4 L856.1,-36.3 L856.1,-38.1 L856.2,-39.6 L856.2,-41.3 L856.2,-43.1 L856.3,-45.0 L856.3,-46.8 L856.3,-47.5" stroke="#075B57"/>
</g>
<g stroke="#000" stroke-width="3.0" fill="none" stroke-linecap="butt">
<path d="M159.60,18.05 V708.49"/>
<path d="M998.40,18.05 V708.49"/>
<path d="M145.90,19.55 H1010.90"/>
<path d="M159.60,695.59 H998.40"/>
<path d="M229.46,695.59 v6.20"/>
<path d="M299.32,695.59 v12.90"/>
<path d="M369.18,695.59 v6.20"/>
<path d="M439.04,695.59 v12.90"/>
<path d="M508.90,695.59 v6.20"/>
<path d="M578.76,695.59 v12.90"/>
<path d="M648.62,695.59 v6.20"/>
<path d="M718.48,695.59 v12.90"/>
<path d="M788.34,695.59 v6.20"/>
<path d="M858.20,695.59 v12.90"/>
<path d="M928.06,695.59 v6.20"/>
<path d="M159.60,690.00 h-13.70"/>
<path d="M998.40,690.00 h12.50"/>
<path d="M159.60,634.13 h-6.20"/>
<path d="M998.40,634.13 h6.20"/>
<path d="M159.60,578.26 h-13.70"/>
<path d="M998.40,578.26 h12.50"/>
<path d="M159.60,522.39 h-6.20"/>
<path d="M998.40,522.39 h6.20"/>
<path d="M159.60,466.52 h-13.70"/>
<path d="M998.40,466.52 h12.50"/>
<path d="M159.60,410.65 h-6.20"/>
<path d="M998.40,410.65 h6.20"/>
<path d="M159.60,354.77 h-13.70"/>
<path d="M998.40,354.77 h12.50"/>
<path d="M159.60,298.90 h-6.20"/>
<path d="M998.40,298.90 h6.20"/>
<path d="M159.60,243.03 h-13.70"/>
<path d="M998.40,243.03 h12.50"/>
<path d="M159.60,187.16 h-6.20"/>
<path d="M998.40,187.16 h6.20"/>
<path d="M159.60,131.29 h-13.70"/>
<path d="M998.40,131.29 h12.50"/>
<path d="M159.60,75.42 h-6.20"/>
<path d="M998.40,75.42 h6.20"/>
</g>
<g font-family="'Liberation Serif','Times New Roman',serif" font-size="38.7" fill="#000" style="font-kerning:none">
<text transform="translate(159.60,747.4) scale(1,1.035)" text-anchor="middle">0.0</text>
<text transform="translate(299.32,747.4) scale(1,1.035)" text-anchor="middle">0.2</text>
<text transform="translate(439.04,747.4) scale(1,1.035)" text-anchor="middle">0.4</text>
<text transform="translate(578.76,747.4) scale(1,1.035)" text-anchor="middle">0.6</text>
<text transform="translate(718.48,747.4) scale(1,1.035)" text-anchor="middle">0.8</text>
<text transform="translate(858.20,747.4) scale(1,1.035)" text-anchor="middle">1.0</text>
<text transform="translate(998.40,747.4) scale(1,1.035)" text-anchor="middle">1.2</text>
<text transform="translate(137.0,701.60) scale(1,1.035)" text-anchor="end">0.0</text>
<text transform="translate(137.0,589.86) scale(1,1.035)" text-anchor="end">0.5</text>
<text transform="translate(137.0,478.12) scale(1,1.035)" text-anchor="end">1.0</text>
<text transform="translate(137.0,366.38) scale(1,1.035)" text-anchor="end">1.5</text>
<text transform="translate(137.0,254.63) scale(1,1.035)" text-anchor="end">2.0</text>
<text transform="translate(137.0,142.89) scale(1,1.035)" text-anchor="end">2.5</text>
<text transform="translate(137.0,31.15) scale(1,1.035)" text-anchor="end">3.0</text>
</g>
<g font-family="'Liberation Serif','Times New Roman',serif" font-size="49.3" fill="#000" style="font-kerning:none">
<text x="578.8" y="820.5" text-anchor="middle">J/Jc</text>
<text transform="translate(46.4,343.8) rotate(-90)" text-anchor="middle"><tspan dx="1.4">E</tspan><tspan dx="1.1"> [</tspan><tspan font-size="52.8" dy="4.2" dx="-2.5">×</tspan><tspan dy="-4.2">10</tspan><tspan font-size="33.5" dy="-21.0">-4</tspan><tspan dy="21.0"> V/m</tspan><tspan dx="1.5">]</tspan></text>
</g>
<rect x="181.0" y="49.2" width="380.5" height="436.2" fill="#fff" stroke="#1c1c1c" stroke-width="1.5"/>
<g fill="none" stroke-width="4.8" stroke-linecap="round">
<path d="M185.8,73.0 H263.9" stroke="#FCC413"/>
<path d="M185.8,117.0 H263.9" stroke="#FD8F0D"/>
<path d="M185.8,160.2 H263.9" stroke="#F1590C"/>
<path d="M185.8,203.4 H263.9" stroke="#DC1811"/>
<path d="M185.8,246.2 H263.9" stroke="#880C0B"/>
<path d="M185.8,293.7 H263.9" stroke="#2E0303"/>
<path d="M185.4,341.5 H263.9" stroke="#ABE333" stroke-dasharray="19.9 26.8"/>
<path d="M185.4,397.8 H263.9" stroke="#6EA118" stroke-dasharray="19.9 26.8"/>
<path d="M185.4,454.2 H263.9" stroke="#075B57" stroke-dasharray="19.9 26.8"/>
</g>
<g font-family="'Liberation Serif','Times New Roman',serif" font-size="35.2" fill="#000" style="font-kerning:none">
<text x="272.8" y="84.6">n=1</text>
<text x="272.8" y="128.6">n=3</text>
<text x="272.8" y="171.8">n=14</text>
<text x="272.8" y="215.0">n=50</text>
<text x="272.8" y="257.8">n=100</text>
<text x="272.8" y="305.3">n=∞</text>
<text x="272.8" y="352.1">tanh, E<tspan font-size="23.9" dy="9.5">0</tspan><tspan dy="-9.5">=10</tspan><tspan font-size="22.9" dy="-13.7">-5</tspan><tspan dy="13.7"> V/m</tspan></text>
<text x="272.8" y="408.4">tanh, E<tspan font-size="23.9" dy="9.5">0</tspan><tspan dy="-9.5">=5<tspan dx="-1.3">·</tspan><tspan dx="-1.3">10</tspan></tspan><tspan font-size="22.9" dy="-13.7">-5</tspan><tspan dy="13.7"> V/m</tspan></text>
<text x="272.8" y="464.8">tanh, E<tspan font-size="23.9" dy="9.5">0</tspan><tspan dy="-9.5">=10</tspan><tspan font-size="22.9" dy="-13.7">-4</tspan><tspan dy="13.7"> V/m</tspan></text>
</g>
</svg>
</body></html>
